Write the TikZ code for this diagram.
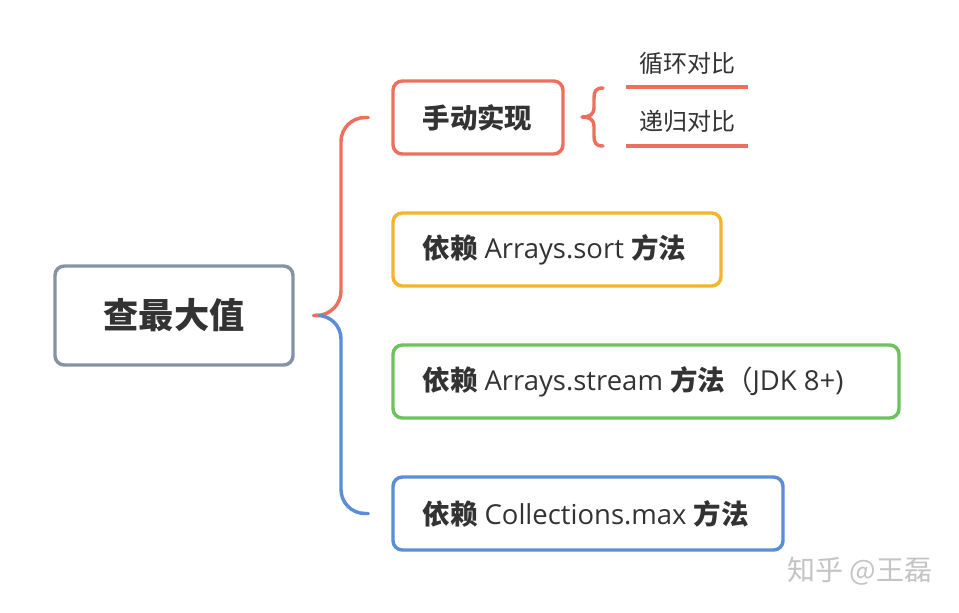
\documentclass[tikz,border=0pt]{standalone}
\usepackage{fontspec}
\setmainfont{Open Sans}
\newfontfamily\cjk{Noto Sans CJK SC}
\definecolor{cred}{HTML}{EF6F5F}
\definecolor{cyel}{HTML}{F5B52A}
\definecolor{cgrn}{HTML}{6DC35B}
\definecolor{cblu}{HTML}{5B8ED5}
\definecolor{cgry}{HTML}{8792A5}
\definecolor{ctxt}{HTML}{333333}
\definecolor{cwm}{HTML}{C4C4C4}
\begin{document}
\begin{tikzpicture}[x=0.75pt,y=-0.75pt,
  box/.style={draw, line width=2.6pt, rounded corners=7pt, inner sep=0pt, fill=white},
  lbl/.style={anchor=west, inner sep=0pt, text=ctxt, font=\fontsize{20.6}{24}\selectfont},
  conn/.style={line width=2.6pt, rounded corners=18pt, line cap=round},
  sub/.style={inner sep=0pt, text=ctxt, font=\cjk\fontsize{18}{22}\selectfont}]
\useasboundingbox[fill=white] (0,0) rectangle (959,612);

% root
\node[box, draw=cgry, minimum width=178.5pt, minimum height=74.25pt] (root) at (174,315.5) {};
\node[inner sep=0pt, text=ctxt, font=\cjk\bfseries\fontsize{26.4}{30}\selectfont] (roott) at (root.center) {查最大值};

% branch boxes
\node[box, draw=cred, minimum width=127.5pt, minimum height=54.75pt] (b1) at (478,117.5) {};
\node[box, draw=cyel, minimum width=246pt, minimum height=54.75pt] (b2) at (557,249.5) {};
\node[box, draw=cgrn, minimum width=379.5pt, minimum height=54.75pt] (b3) at (646,381.5) {};
\node[box, draw=cblu, minimum width=292.5pt, minimum height=54.75pt] (b4) at (588,513.5) {};

\node[lbl] (t1) at ([xshift=23.25pt]b1.west) {\cjk\bfseries 手动实现};
\node[lbl] (t2) at ([xshift=23.25pt]b2.west) {{\cjk\bfseries 依赖} Arrays.sort {\cjk\bfseries 方法}};
\node[lbl] (t3) at ([xshift=23.25pt]b3.west) {{\cjk\bfseries 依赖} Arrays.stream {\cjk\bfseries 方法}{\cjk （}JDK 8+)};
\node[lbl] (t4) at ([xshift=23.25pt]b4.west) {{\cjk\bfseries 依赖} Collections.max {\cjk\bfseries 方法}};

% connectors
\coordinate (tip) at ([xshift=14.25pt]root.east);
\coordinate (vx) at (341,315);
\coordinate (e1) at ([xshift=-17.25pt]b1.west);
\coordinate (e4) at ([xshift=-17.25pt]b4.west);
\draw[conn, cred] (tip) -- (vx) -- (vx |- e1) -- (e1);
\draw[conn, cblu] (tip) -- (vx) -- (vx |- e4) -- (e4);
\draw[line width=2.6pt, cred, line cap=round] (tip) -- ([xshift=3pt]tip);

% sub items
\node[sub] (s1) at (687,63) {循环对比};
\node[sub] (s2) at (687,121) {递归对比};
\coordinate (u1a) at (626,87); \coordinate (u1b) at (748,87);
\coordinate (u2a) at (626,146); \coordinate (u2b) at (748,146);
\draw[line width=2.6pt, cred] (u1a) -- (u1b);
\draw[line width=2.6pt, cred] (u2a) -- (u2b);
\coordinate (brt) at (603,88);
\coordinate (brm) at (582,117);
\coordinate (brb) at (603,146);
\draw[line width=2.6pt, cred, line cap=round, line join=round]
  (brt) .. controls (596,88) and (594,91) .. (594,98) -- (594,108)
  .. controls (594,114) and (590,117) .. (brm)
  .. controls (590,117) and (594,120) .. (594,126) -- (594,136)
  .. controls (594,143) and (596,146) .. (brb);

% watermark
\node[inner sep=0pt, text=cwm, font=\cjk\fontsize{21}{24}\selectfont] (wm) at (860,571) {知乎 @王磊};
\end{tikzpicture}
\end{document}
